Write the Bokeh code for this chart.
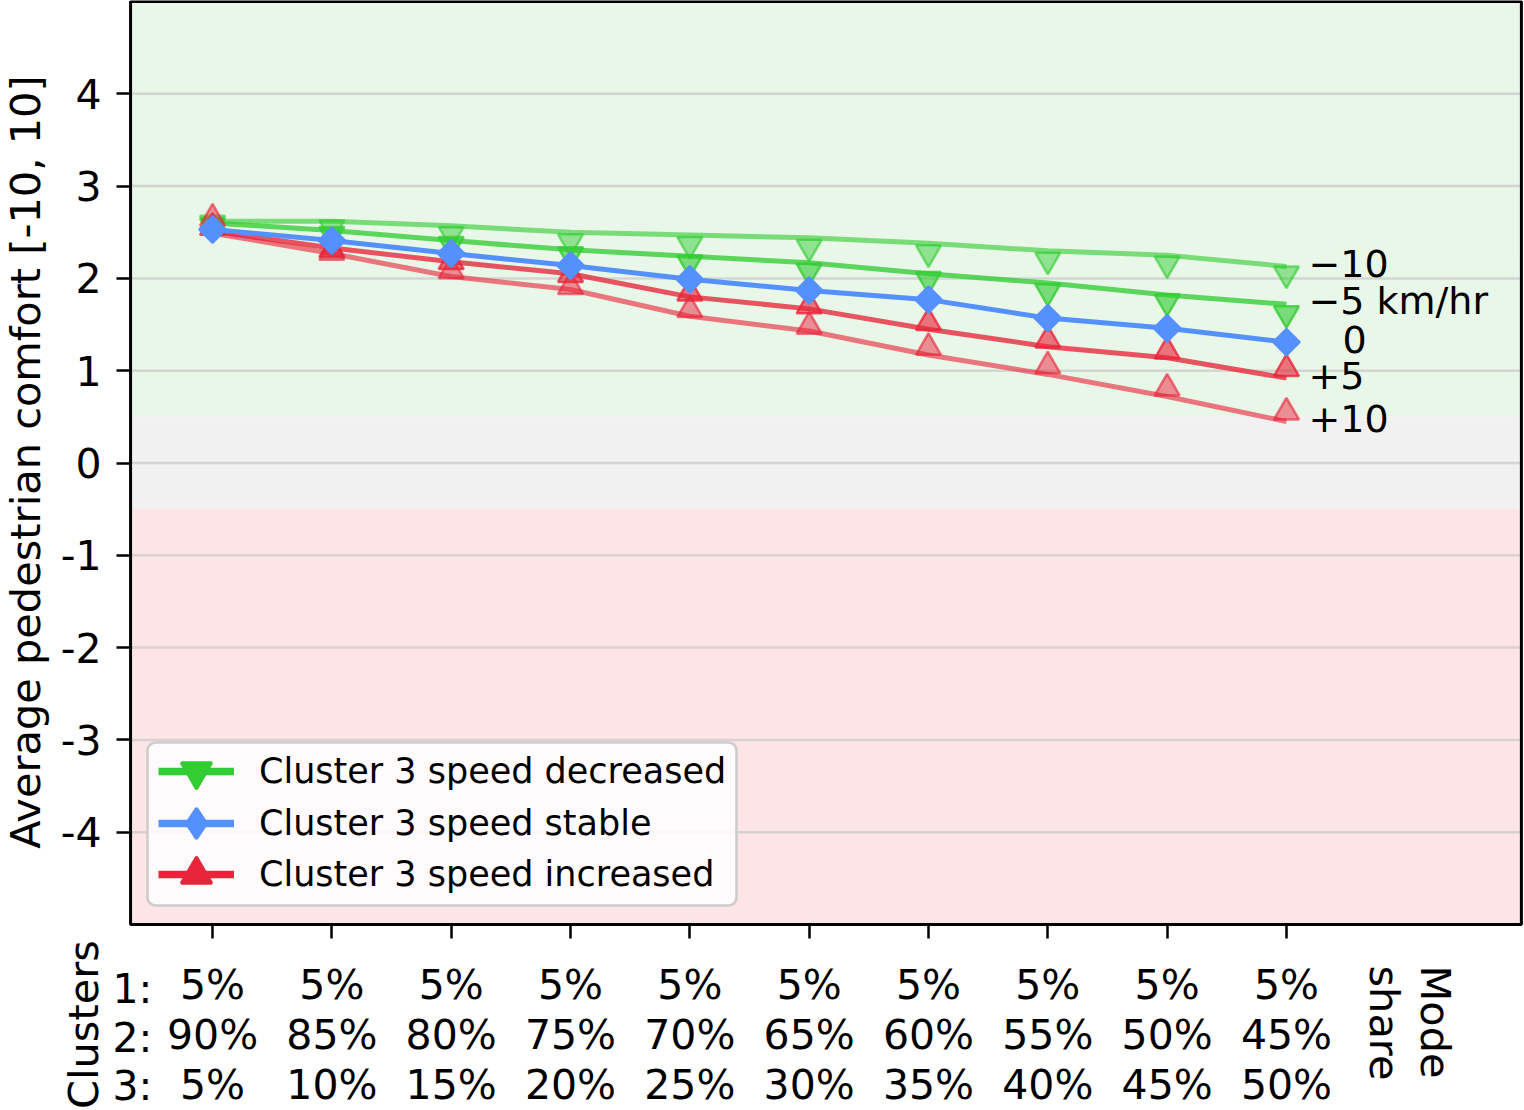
from math import pi

from bokeh.core.properties import value
from bokeh.embed import file_html
from bokeh.models import (BoxAnnotation, FixedTicker, Label, Legend,
                          LegendItem, Range1d)
from bokeh.plotting import figure
from bokeh.resources import INLINE

FONT = "DejaVu Sans"

# ---- data -----------------------------------------------------------------
steps = list(range(10))
cluster1_share = ["5%"] * 10
cluster2_share = ["90%", "85%", "80%", "75%", "70%", "65%", "60%", "55%", "50%", "45%"]
cluster3_share = ["5%", "10%", "15%", "20%", "25%", "30%", "35%", "40%", "45%", "50%"]

y_ticks = [-4, -3, -2, -1, 0, 1, 2, 3, 4]
y_tick_labels = ["-4", "-3", "-2", "-1", "0", "1", "2", "3", "4"]

speed_labels = ["−10", "−5 km/hr", "0", "+5", "+10"]

# fitted trend per speed change of cluster 3
trend_minus10 = [2.62, 2.62, 2.57, 2.50, 2.47, 2.44, 2.38, 2.30, 2.25, 2.13]
trend_minus5 = [2.60, 2.52, 2.41, 2.31, 2.24, 2.17, 2.05, 1.95, 1.82, 1.72]
trend_zero = [2.53, 2.41, 2.27, 2.14, 1.99, 1.87, 1.77, 1.57, 1.46, 1.31]
trend_plus5 = [2.51, 2.33, 2.18, 2.05, 1.80, 1.67, 1.45, 1.26, 1.14, 0.92]
trend_plus10 = [2.49, 2.27, 2.02, 1.88, 1.59, 1.43, 1.17, 0.96, 0.72, 0.45]

# simulated average comfort per speed change of cluster 3
points_minus10 = [2.60, 2.55, 2.48, 2.40, 2.37, 2.34, 2.28, 2.20, 2.16, 2.05]
points_minus5 = [2.57, 2.48, 2.37, 2.26, 2.17, 2.08, 1.99, 1.86, 1.75, 1.62]
points_zero = [2.53, 2.41, 2.27, 2.14, 1.99, 1.87, 1.77, 1.57, 1.46, 1.31]
points_plus5 = [2.55, 2.31, 2.18, 2.04, 1.84, 1.70, 1.52, 1.33, 1.21, 1.02]
points_plus10 = [2.65, 2.28, 2.08, 1.91, 1.66, 1.48, 1.25, 1.05, 0.81, 0.55]

GREEN = "#33CC33"
BLUE = "#5590FF"
RED = "#E8253A"

# ---- figure -----------------------------------------------------------------
# The frame fills the whole canvas; the axes box is an annotation inside it,
# so the tick labels and titles around that box are never clipped.
W, H = 1524, 1110
AX_X0, AX_X1 = -0.687, 10.969      # axes box, data units
AX_Y0, AX_Y1 = -5.0, 5.0

p = figure(width=W, height=H, x_range=Range1d(-1.777, 10.995), y_range=Range1d(-7.015, 5.011),
           output_backend="svg", toolbar_location=None,
           min_border_left=0, min_border_right=0, min_border_top=0, min_border_bottom=0)
p.background_fill_color = "white"
p.border_fill_color = "white"
p.outline_line_color = None
p.xgrid.visible = False
p.ygrid.visible = False

# comfort bands
for lo, hi, col in ((0.5, AX_Y1, "#E9F7E9"), (-0.5, 0.5, "#F1F1F1"), (AX_Y0, -0.5, "#FDE4E6")):
    p.add_layout(BoxAnnotation(left=AX_X0, right=AX_X1, bottom=lo, top=hi,
                               fill_color=col, fill_alpha=1, line_alpha=0, level="image"))

# horizontal grid lines across the axes box
p.segment(x0=AX_X0, x1=AX_X1, y0=y_ticks, y1=y_ticks,
          line_color="#c8c8c8", line_alpha=0.7, line_width=2.5)

# axes pinned to the box edges
for ax in (p.xaxis[0], p.yaxis[0]):
    ax.axis_line_color = None
    ax.major_tick_out = 14
    ax.major_tick_in = 0
    ax.major_tick_line_width = 2.5
    ax.minor_tick_line_color = None
    ax.major_label_text_font = FONT
    ax.major_label_text_font_size = "41px"
    ax.major_label_text_color = "black"

p.yaxis.fixed_location = AX_X0
p.yaxis.ticker = FixedTicker(ticks=y_ticks)
p.yaxis.major_label_overrides = dict(zip(y_ticks, y_tick_labels))
p.yaxis.major_label_standoff = 15

p.xaxis.fixed_location = AX_Y0
p.xaxis.ticker = FixedTicker(ticks=steps)
p.xaxis.major_label_overrides = {
    s: f"{a}\n{b}\n{c}" for s, a, b, c in zip(steps, cluster1_share, cluster2_share, cluster3_share)
}
p.xaxis.major_label_text_line_height = 1.045
p.xaxis.major_label_standoff = 22

# ---- series -----------------------------------------------------------------
series = [
    (trend_minus10, points_minus10, GREEN, 0.62, "inverted_triangle"),
    (trend_minus5, points_minus5, GREEN, 0.78, "inverted_triangle"),
    (trend_plus5, points_plus5, RED, 0.78, "triangle"),
    (trend_plus10, points_plus10, RED, 0.62, "triangle"),
    (trend_zero, points_zero, BLUE, 1.0, "square"),
]
for trend, pts, col, alpha, marker in series:
    p.line(steps, trend, line_color=col, line_alpha=alpha, line_width=5)
    if marker == "square":
        p.scatter(steps, pts, marker="square", angle=pi / 4, size=19,
                  fill_color=col, line_color=col, line_width=2)
    else:
        p.scatter(steps, pts, marker=marker, size=25, fill_color=col,
                  fill_alpha=alpha * 0.8, line_color=col, line_alpha=alpha,
                  line_width=2.5)

# speed change labels at the end of each trend line
ends = [trend_minus10[-1], trend_minus5[-1], trend_zero[-1], trend_plus5[-1], trend_plus10[-1]]
p.text(x=[steps[-1]] * 5, y=ends, text=speed_labels,
       x_offset=[22, 22, 56, 22, 22], y_offset=-3, text_align="left", text_baseline="middle",
       text_font=value(FONT), text_font_size="38px", text_color="black")

# axes box outline
p.add_layout(BoxAnnotation(left=AX_X0, right=AX_X1, bottom=AX_Y0, top=AX_Y1,
                           fill_alpha=0, line_color="black", line_alpha=1, line_width=3))

# ---- legend -----------------------------------------------------------------
# positions below are px from the canvas' bottom-left corner
p.add_layout(BoxAnnotation(left=147, right=736, top=368, bottom=205,
                           left_units="screen", right_units="screen",
                           top_units="screen", bottom_units="screen",
                           fill_color="white", fill_alpha=0.85, line_color="#cccccc",
                           line_alpha=1, line_width=2.5, border_radius=8))

nan = float("nan")
for label, col, marker, row_bottom in (("Cluster 3 speed decreased", GREEN, "inverted_triangle", 296),
                                       ("Cluster 3 speed stable", BLUE, "diamond", 244.5),
                                       ("Cluster 3 speed increased", RED, "triangle", 193)):
    rl = p.line(x=[nan], y=[nan], line_color=col, line_width=7.5)
    rm = p.scatter(x=[nan], y=[nan], marker=marker, fill_color=col, line_color=col, line_width=3)
    p.add_layout(Legend(items=[LegendItem(label=label, renderers=[rl, rm])],
                        location=(158, row_bottom), glyph_width=76, glyph_height=86,
                        padding=0, margin=0, label_standoff=25,
                        label_text_font=FONT, label_text_font_size="35px",
                        label_text_color="black",
                        background_fill_alpha=0, border_line_alpha=0))


# ---- titles -----------------------------------------------------------------
def title(text, x, y, angle=0.0, align="left", size="41.5px"):
    p.add_layout(Label(x=x, y=y, x_units="screen", y_units="screen", text=text,
                       angle=angle, text_align=align, text_baseline="alphabetic",
                       text_font=FONT, text_font_size=size, text_color="black"))


title("Average pedestrian comfort [-10, 10]", 25, 648.5, pi / 2, "center")
title("Clusters", 83, 86, pi / 2, "center")
for row, y in zip(("1:", "2:", "3:"), (121.5, 73, 24.5)):
    title(row, 112, y, size="41px")
title("Mode", 1435, 145, -pi / 2)
title("share", 1384, 145, -pi / 2)

open("out.html", "w").write(file_html(p, INLINE))
